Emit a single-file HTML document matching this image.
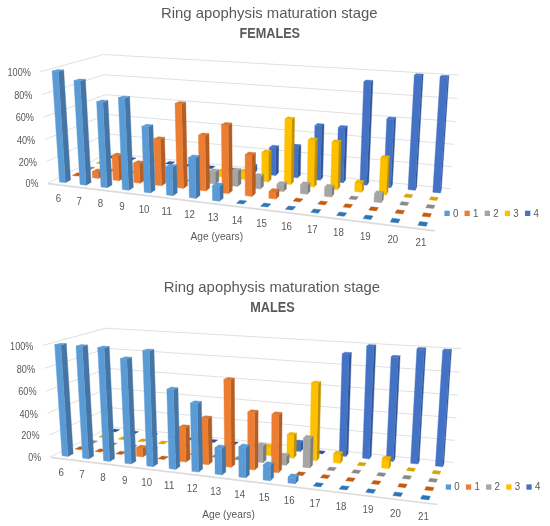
<!DOCTYPE html>
<html><head><meta charset="utf-8"><style>
html,body{margin:0;padding:0;background:#fff;}
body{width:550px;height:526px;overflow:hidden;position:relative;}
svg{position:absolute;left:0;top:0;}
text{font-family:"Liberation Sans",sans-serif;fill:#595959;}
</style></head><body>
<svg width="550" height="526" viewBox="0 0 550 526">
<text x="269.3" y="18.3" font-size="14.5" text-anchor="middle" textLength="216.5" lengthAdjust="spacingAndGlyphs">Ring apophysis maturation stage</text>
<text x="269.8" y="38.3" font-size="14" font-weight="bold" fill="#3C3C3C" text-anchor="middle" textLength="60.5" lengthAdjust="spacingAndGlyphs">FEMALES</text>
<g><polyline fill="none" stroke="#DDDDDD" stroke-width="0.9" points="48.0,183.1 108.1,153.1 450.8,188.8"/>
<polyline fill="none" stroke="#DDDDDD" stroke-width="0.9" points="46.5,161.5 107.1,133.9 452.3,166.7"/>
<polyline fill="none" stroke="#DDDDDD" stroke-width="0.9" points="45.0,139.5 106.2,114.4 453.9,144.3"/>
<polyline fill="none" stroke="#DDDDDD" stroke-width="0.9" points="43.4,117.3 105.2,94.7 455.5,121.5"/>
<polyline fill="none" stroke="#DDDDDD" stroke-width="0.9" points="41.8,94.6 104.3,74.7 457.1,98.4"/>
<polyline fill="none" stroke="#DDDDDD" stroke-width="0.9" points="40.2,71.7 103.3,54.5 458.7,74.9"/>
<line x1="48.0" y1="183.6" x2="434.9" y2="230.8" stroke="#DCDCDC" stroke-width="1.7"/>
<polygon points="107.4,157.6 112.9,158.2 117.1,156.0 111.7,155.4" fill="#2F5597" stroke="#2F5597" stroke-width="0.4" stroke-linejoin="round"/>
<polygon points="126.3,159.6 131.9,160.2 136.0,158.0 130.5,157.4" fill="#2F5597" stroke="#2F5597" stroke-width="0.4" stroke-linejoin="round"/>
<polygon points="145.6,161.7 151.3,162.3 155.2,160.0 149.6,159.4" fill="#2F5597" stroke="#2F5597" stroke-width="0.4" stroke-linejoin="round"/>
<polygon points="165.3,163.7 171.1,164.4 174.8,162.0 169.1,161.4" fill="#2F5597" stroke="#2F5597" stroke-width="0.4" stroke-linejoin="round"/>
<polygon points="185.3,165.9 191.2,166.5 194.8,164.1 189.0,163.5" fill="#2F5597" stroke="#2F5597" stroke-width="0.4" stroke-linejoin="round"/>
<polygon points="205.7,168.0 211.7,168.7 215.1,166.3 209.2,165.7" fill="#2F5597" stroke="#2F5597" stroke-width="0.4" stroke-linejoin="round"/>
<polygon points="226.5,170.3 232.6,170.9 235.8,168.5 229.8,167.8" fill="#2F5597" stroke="#2F5597" stroke-width="0.4" stroke-linejoin="round"/>
<polygon points="253.9,173.2 256.9,170.7 256.9,164.5 253.9,166.9" fill="#2F5597" stroke="#2F5597" stroke-width="0.4" stroke-linejoin="round"/>
<polygon points="247.7,172.5 253.9,173.2 253.9,166.9 247.6,166.3" fill="#4472C4" stroke="#4472C4" stroke-width="0.4" stroke-linejoin="round"/>
<polygon points="247.6,166.3 253.9,166.9 256.9,164.5 250.8,163.9" fill="#4472C4" stroke="#4472C4" stroke-width="0.4" stroke-linejoin="round"/>
<polygon points="275.6,175.5 278.4,172.9 278.7,145.8 275.8,148.1" fill="#2F5597" stroke="#2F5597" stroke-width="0.4" stroke-linejoin="round"/>
<polygon points="269.2,174.8 275.6,175.5 275.8,148.1 269.4,147.5" fill="#4472C4" stroke="#4472C4" stroke-width="0.4" stroke-linejoin="round"/>
<polygon points="269.4,147.5 275.8,148.1 278.7,145.8 272.4,145.2" fill="#4472C4" stroke="#4472C4" stroke-width="0.4" stroke-linejoin="round"/>
<polygon points="297.7,177.8 300.4,175.2 300.9,144.7 298.2,147.0" fill="#2F5597" stroke="#2F5597" stroke-width="0.4" stroke-linejoin="round"/>
<polygon points="291.2,177.1 297.7,177.8 298.2,147.0 291.7,146.4" fill="#4472C4" stroke="#4472C4" stroke-width="0.4" stroke-linejoin="round"/>
<polygon points="291.7,146.4 298.2,147.0 300.9,144.7 294.4,144.1" fill="#4472C4" stroke="#4472C4" stroke-width="0.4" stroke-linejoin="round"/>
<polygon points="320.3,180.2 322.7,177.6 324.0,124.0 321.6,126.1" fill="#2F5597" stroke="#2F5597" stroke-width="0.4" stroke-linejoin="round"/>
<polygon points="313.7,179.5 320.3,180.2 321.6,126.1 314.9,125.6" fill="#4472C4" stroke="#4472C4" stroke-width="0.4" stroke-linejoin="round"/>
<polygon points="314.9,125.6 321.6,126.1 324.0,124.0 317.4,123.5" fill="#4472C4" stroke="#4472C4" stroke-width="0.4" stroke-linejoin="round"/>
<polygon points="343.3,182.7 345.5,180.0 347.3,125.9 345.0,128.1" fill="#2F5597" stroke="#2F5597" stroke-width="0.4" stroke-linejoin="round"/>
<polygon points="336.6,182.0 343.3,182.7 345.0,128.1 338.2,127.5" fill="#4472C4" stroke="#4472C4" stroke-width="0.4" stroke-linejoin="round"/>
<polygon points="338.2,127.5 345.0,128.1 347.3,125.9 340.5,125.4" fill="#4472C4" stroke="#4472C4" stroke-width="0.4" stroke-linejoin="round"/>
<polygon points="366.7,185.2 368.7,182.4 372.9,80.4 370.9,82.1" fill="#2F5597" stroke="#2F5597" stroke-width="0.4" stroke-linejoin="round"/>
<polygon points="359.9,184.4 366.7,185.2 370.9,82.1 363.8,81.7" fill="#4472C4" stroke="#4472C4" stroke-width="0.4" stroke-linejoin="round"/>
<polygon points="363.8,81.7 370.9,82.1 372.9,80.4 365.9,80.0" fill="#4472C4" stroke="#4472C4" stroke-width="0.4" stroke-linejoin="round"/>
<polygon points="390.7,187.7 392.4,184.9 395.8,117.5 394.0,119.6" fill="#2F5597" stroke="#2F5597" stroke-width="0.4" stroke-linejoin="round"/>
<polygon points="383.7,187.0 390.7,187.7 394.0,119.6 386.8,119.0" fill="#4472C4" stroke="#4472C4" stroke-width="0.4" stroke-linejoin="round"/>
<polygon points="386.8,119.0 394.0,119.6 395.8,117.5 388.7,116.9" fill="#4472C4" stroke="#4472C4" stroke-width="0.4" stroke-linejoin="round"/>
<polygon points="415.1,190.3 416.6,187.5 423.2,74.1 421.7,75.8" fill="#2F5597" stroke="#2F5597" stroke-width="0.4" stroke-linejoin="round"/>
<polygon points="408.0,189.6 415.1,190.3 421.7,75.8 414.3,75.3" fill="#4472C4" stroke="#4472C4" stroke-width="0.4" stroke-linejoin="round"/>
<polygon points="414.3,75.3 421.7,75.8 423.2,74.1 415.8,73.7" fill="#4472C4" stroke="#4472C4" stroke-width="0.4" stroke-linejoin="round"/>
<polygon points="440.1,193.0 441.3,190.1 448.9,75.6 447.7,77.3" fill="#2F5597" stroke="#2F5597" stroke-width="0.4" stroke-linejoin="round"/>
<polygon points="432.8,192.2 440.1,193.0 447.7,77.3 440.1,76.8" fill="#4472C4" stroke="#4472C4" stroke-width="0.4" stroke-linejoin="round"/>
<polygon points="440.1,76.8 447.7,77.3 448.9,75.6 441.4,75.2" fill="#4472C4" stroke="#4472C4" stroke-width="0.4" stroke-linejoin="round"/>
<polygon points="96.3,163.2 101.9,163.8 106.3,161.5 100.8,160.9" fill="#D9A300" stroke="#D9A300" stroke-width="0.4" stroke-linejoin="round"/>
<polygon points="115.6,165.3 121.3,166.0 125.6,163.6 120.0,163.0" fill="#D9A300" stroke="#D9A300" stroke-width="0.4" stroke-linejoin="round"/>
<polygon points="135.3,167.5 141.1,168.1 145.2,165.7 139.5,165.1" fill="#D9A300" stroke="#D9A300" stroke-width="0.4" stroke-linejoin="round"/>
<polygon points="155.4,169.7 161.3,170.3 165.3,167.9 159.4,167.3" fill="#D9A300" stroke="#D9A300" stroke-width="0.4" stroke-linejoin="round"/>
<polygon points="175.8,171.9 181.8,172.6 185.6,170.1 179.7,169.5" fill="#D9A300" stroke="#D9A300" stroke-width="0.4" stroke-linejoin="round"/>
<polygon points="196.7,174.2 202.8,174.9 206.4,172.4 200.3,171.7" fill="#D9A300" stroke="#D9A300" stroke-width="0.4" stroke-linejoin="round"/>
<polygon points="224.2,177.2 227.6,174.7 227.5,169.5 224.1,172.0" fill="#BF9000" stroke="#BF9000" stroke-width="0.4" stroke-linejoin="round"/>
<polygon points="217.9,176.6 224.2,177.2 224.1,172.0 217.9,171.3" fill="#FFC000" stroke="#FFC000" stroke-width="0.4" stroke-linejoin="round"/>
<polygon points="217.9,171.3 224.1,172.0 227.5,169.5 221.3,168.8" fill="#F0B400" stroke="#F0B400" stroke-width="0.4" stroke-linejoin="round"/>
<polygon points="245.9,179.6 249.2,177.0 249.2,169.6 245.9,172.2" fill="#BF9000" stroke="#BF9000" stroke-width="0.4" stroke-linejoin="round"/>
<polygon points="239.6,178.9 245.9,179.6 245.9,172.2 239.5,171.5" fill="#FFC000" stroke="#FFC000" stroke-width="0.4" stroke-linejoin="round"/>
<polygon points="239.5,171.5 245.9,172.2 249.2,169.6 242.8,169.0" fill="#F0B400" stroke="#F0B400" stroke-width="0.4" stroke-linejoin="round"/>
<polygon points="268.2,182.1 271.2,179.4 271.4,150.5 268.3,152.9" fill="#BF9000" stroke="#BF9000" stroke-width="0.4" stroke-linejoin="round"/>
<polygon points="261.7,181.3 268.2,182.1 268.3,152.9 261.8,152.3" fill="#FFC000" stroke="#FFC000" stroke-width="0.4" stroke-linejoin="round"/>
<polygon points="261.8,152.3 268.3,152.9 271.4,150.5 264.9,149.9" fill="#F0B400" stroke="#F0B400" stroke-width="0.4" stroke-linejoin="round"/>
<polygon points="290.8,184.5 293.6,181.8 294.6,117.4 291.7,119.4" fill="#BF9000" stroke="#BF9000" stroke-width="0.4" stroke-linejoin="round"/>
<polygon points="284.2,183.8 290.8,184.5 291.7,119.4 284.9,118.9" fill="#FFC000" stroke="#FFC000" stroke-width="0.4" stroke-linejoin="round"/>
<polygon points="284.9,118.9 291.7,119.4 294.6,117.4 287.9,116.8" fill="#F0B400" stroke="#F0B400" stroke-width="0.4" stroke-linejoin="round"/>
<polygon points="313.9,187.1 316.5,184.3 317.6,138.3 315.0,140.6" fill="#BF9000" stroke="#BF9000" stroke-width="0.4" stroke-linejoin="round"/>
<polygon points="307.2,186.3 313.9,187.1 315.0,140.6 308.1,140.0" fill="#FFC000" stroke="#FFC000" stroke-width="0.4" stroke-linejoin="round"/>
<polygon points="308.1,140.0 315.0,140.6 317.6,138.3 310.8,137.7" fill="#F0B400" stroke="#F0B400" stroke-width="0.4" stroke-linejoin="round"/>
<polygon points="337.5,189.7 339.9,186.8 341.3,140.4 338.9,142.7" fill="#BF9000" stroke="#BF9000" stroke-width="0.4" stroke-linejoin="round"/>
<polygon points="330.6,188.9 337.5,189.7 338.9,142.7 331.9,142.1" fill="#FFC000" stroke="#FFC000" stroke-width="0.4" stroke-linejoin="round"/>
<polygon points="331.9,142.1 338.9,142.7 341.3,140.4 334.4,139.8" fill="#F0B400" stroke="#F0B400" stroke-width="0.4" stroke-linejoin="round"/>
<polygon points="361.6,192.3 363.7,189.4 364.0,180.6 361.9,183.4" fill="#BF9000" stroke="#BF9000" stroke-width="0.4" stroke-linejoin="round"/>
<polygon points="354.6,191.5 361.6,192.3 361.9,183.4 354.9,182.7" fill="#FFC000" stroke="#FFC000" stroke-width="0.4" stroke-linejoin="round"/>
<polygon points="354.9,182.7 361.9,183.4 364.0,180.6 357.1,179.9" fill="#F0B400" stroke="#F0B400" stroke-width="0.4" stroke-linejoin="round"/>
<polygon points="386.2,195.0 388.0,192.0 389.7,156.1 387.9,158.7" fill="#BF9000" stroke="#BF9000" stroke-width="0.4" stroke-linejoin="round"/>
<polygon points="379.0,194.2 386.2,195.0 387.9,158.7 380.6,158.0" fill="#FFC000" stroke="#FFC000" stroke-width="0.4" stroke-linejoin="round"/>
<polygon points="380.6,158.0 387.9,158.7 389.7,156.1 382.5,155.5" fill="#F0B400" stroke="#F0B400" stroke-width="0.4" stroke-linejoin="round"/>
<polygon points="403.9,196.9 411.3,197.7 412.9,194.7 405.6,193.9" fill="#D9A300" stroke="#D9A300" stroke-width="0.4" stroke-linejoin="round"/>
<polygon points="429.4,199.7 436.9,200.6 438.2,197.5 430.8,196.7" fill="#D9A300" stroke="#D9A300" stroke-width="0.4" stroke-linejoin="round"/>
<polygon points="84.7,169.1 90.3,169.8 95.0,167.4 89.4,166.7" fill="#8A8A8A" stroke="#8A8A8A" stroke-width="0.4" stroke-linejoin="round"/>
<polygon points="104.4,171.4 110.2,172.0 114.7,169.6 109.0,168.9" fill="#8A8A8A" stroke="#8A8A8A" stroke-width="0.4" stroke-linejoin="round"/>
<polygon points="124.5,173.6 130.4,174.3 134.7,171.8 128.9,171.1" fill="#8A8A8A" stroke="#8A8A8A" stroke-width="0.4" stroke-linejoin="round"/>
<polygon points="145.0,176.0 151.0,176.6 155.2,174.1 149.2,173.4" fill="#8A8A8A" stroke="#8A8A8A" stroke-width="0.4" stroke-linejoin="round"/>
<polygon points="165.9,178.3 172.0,179.0 176.0,176.4 169.9,175.7" fill="#8A8A8A" stroke="#8A8A8A" stroke-width="0.4" stroke-linejoin="round"/>
<polygon points="187.2,180.7 193.4,181.4 197.2,178.8 191.0,178.1" fill="#8A8A8A" stroke="#8A8A8A" stroke-width="0.4" stroke-linejoin="round"/>
<polygon points="215.3,183.9 218.9,181.2 218.8,169.4 215.1,172.0" fill="#7C7C7C" stroke="#7C7C7C" stroke-width="0.4" stroke-linejoin="round"/>
<polygon points="208.9,183.2 215.3,183.9 215.1,172.0 208.7,171.3" fill="#A5A5A5" stroke="#A5A5A5" stroke-width="0.4" stroke-linejoin="round"/>
<polygon points="208.7,171.3 215.1,172.0 218.8,169.4 212.4,168.8" fill="#A5A5A5" stroke="#A5A5A5" stroke-width="0.4" stroke-linejoin="round"/>
<polygon points="237.6,186.4 241.0,183.7 240.9,168.5 237.5,171.1" fill="#7C7C7C" stroke="#7C7C7C" stroke-width="0.4" stroke-linejoin="round"/>
<polygon points="231.1,185.7 237.6,186.4 237.5,171.1 231.0,170.5" fill="#A5A5A5" stroke="#A5A5A5" stroke-width="0.4" stroke-linejoin="round"/>
<polygon points="231.0,170.5 237.5,171.1 240.9,168.5 234.4,167.9" fill="#A5A5A5" stroke="#A5A5A5" stroke-width="0.4" stroke-linejoin="round"/>
<polygon points="260.3,189.0 263.5,186.2 263.6,174.2 260.4,176.9" fill="#7C7C7C" stroke="#7C7C7C" stroke-width="0.4" stroke-linejoin="round"/>
<polygon points="253.7,188.3 260.3,189.0 260.4,176.9 253.7,176.2" fill="#A5A5A5" stroke="#A5A5A5" stroke-width="0.4" stroke-linejoin="round"/>
<polygon points="253.7,176.2 260.4,176.9 263.6,174.2 256.9,173.5" fill="#A5A5A5" stroke="#A5A5A5" stroke-width="0.4" stroke-linejoin="round"/>
<polygon points="283.5,191.6 286.5,188.7 286.6,182.2 283.6,185.0" fill="#7C7C7C" stroke="#7C7C7C" stroke-width="0.4" stroke-linejoin="round"/>
<polygon points="276.8,190.9 283.5,191.6 283.6,185.0 276.8,184.2" fill="#A5A5A5" stroke="#A5A5A5" stroke-width="0.4" stroke-linejoin="round"/>
<polygon points="276.8,184.2 283.6,185.0 286.6,182.2 279.8,181.4" fill="#A5A5A5" stroke="#A5A5A5" stroke-width="0.4" stroke-linejoin="round"/>
<polygon points="307.2,194.3 310.0,191.4 310.1,182.5 307.4,185.3" fill="#7C7C7C" stroke="#7C7C7C" stroke-width="0.4" stroke-linejoin="round"/>
<polygon points="300.3,193.5 307.2,194.3 307.4,185.3 300.5,184.6" fill="#A5A5A5" stroke="#A5A5A5" stroke-width="0.4" stroke-linejoin="round"/>
<polygon points="300.5,184.6 307.4,185.3 310.1,182.5 303.3,181.8" fill="#A5A5A5" stroke="#A5A5A5" stroke-width="0.4" stroke-linejoin="round"/>
<polygon points="331.4,197.1 333.9,194.0 334.2,185.1 331.7,188.0" fill="#7C7C7C" stroke="#7C7C7C" stroke-width="0.4" stroke-linejoin="round"/>
<polygon points="324.4,196.3 331.4,197.1 331.7,188.0 324.6,187.2" fill="#A5A5A5" stroke="#A5A5A5" stroke-width="0.4" stroke-linejoin="round"/>
<polygon points="324.6,187.2 331.7,188.0 334.2,185.1 327.1,184.3" fill="#A5A5A5" stroke="#A5A5A5" stroke-width="0.4" stroke-linejoin="round"/>
<polygon points="348.9,199.0 356.1,199.8 358.4,196.8 351.2,196.0" fill="#8A8A8A" stroke="#8A8A8A" stroke-width="0.4" stroke-linejoin="round"/>
<polygon points="381.4,202.7 383.3,199.6 383.7,191.6 381.8,194.6" fill="#7C7C7C" stroke="#7C7C7C" stroke-width="0.4" stroke-linejoin="round"/>
<polygon points="374.0,201.9 381.4,202.7 381.8,194.6 374.4,193.8" fill="#A5A5A5" stroke="#A5A5A5" stroke-width="0.4" stroke-linejoin="round"/>
<polygon points="374.4,193.8 381.8,194.6 383.7,191.6 376.4,190.8" fill="#A5A5A5" stroke="#A5A5A5" stroke-width="0.4" stroke-linejoin="round"/>
<polygon points="399.7,204.8 407.2,205.6 408.9,202.4 401.4,201.6" fill="#8A8A8A" stroke="#8A8A8A" stroke-width="0.4" stroke-linejoin="round"/>
<polygon points="425.8,207.7 433.6,208.6 434.9,205.3 427.3,204.5" fill="#8A8A8A" stroke="#8A8A8A" stroke-width="0.4" stroke-linejoin="round"/>
<polygon points="72.4,175.4 78.2,176.1 83.1,173.5 77.4,172.8" fill="#C55A11" stroke="#C55A11" stroke-width="0.4" stroke-linejoin="round"/>
<polygon points="98.4,178.4 103.2,175.8 102.9,169.5 98.1,172.1" fill="#B35E24" stroke="#B35E24" stroke-width="0.4" stroke-linejoin="round"/>
<polygon points="92.5,177.7 98.4,178.4 98.1,172.1 92.2,171.4" fill="#ED7D31" stroke="#ED7D31" stroke-width="0.4" stroke-linejoin="round"/>
<polygon points="92.2,171.4 98.1,172.1 102.9,169.5 97.0,168.9" fill="#DC742D" stroke="#DC742D" stroke-width="0.4" stroke-linejoin="round"/>
<polygon points="119.1,180.8 123.7,178.2 122.6,153.7 118.0,156.2" fill="#B35E24" stroke="#B35E24" stroke-width="0.4" stroke-linejoin="round"/>
<polygon points="113.1,180.1 119.1,180.8 118.0,156.2 111.9,155.5" fill="#ED7D31" stroke="#ED7D31" stroke-width="0.4" stroke-linejoin="round"/>
<polygon points="111.9,155.5 118.0,156.2 122.6,153.7 116.6,153.1" fill="#DC742D" stroke="#DC742D" stroke-width="0.4" stroke-linejoin="round"/>
<polygon points="140.1,183.3 144.5,180.6 143.8,161.3 139.4,163.8" fill="#B35E24" stroke="#B35E24" stroke-width="0.4" stroke-linejoin="round"/>
<polygon points="134.0,182.6 140.1,183.3 139.4,163.8 133.2,163.2" fill="#ED7D31" stroke="#ED7D31" stroke-width="0.4" stroke-linejoin="round"/>
<polygon points="133.2,163.2 139.4,163.8 143.8,161.3 137.7,160.7" fill="#DC742D" stroke="#DC742D" stroke-width="0.4" stroke-linejoin="round"/>
<polygon points="161.6,185.8 165.8,183.0 164.5,137.3 160.2,139.6" fill="#B35E24" stroke="#B35E24" stroke-width="0.4" stroke-linejoin="round"/>
<polygon points="155.3,185.1 161.6,185.8 160.2,139.6 153.8,139.0" fill="#ED7D31" stroke="#ED7D31" stroke-width="0.4" stroke-linejoin="round"/>
<polygon points="153.8,139.0 160.2,139.6 164.5,137.3 158.2,136.7" fill="#DC742D" stroke="#DC742D" stroke-width="0.4" stroke-linejoin="round"/>
<polygon points="183.5,188.4 187.5,185.5 185.7,102.0 181.6,103.9" fill="#B35E24" stroke="#B35E24" stroke-width="0.4" stroke-linejoin="round"/>
<polygon points="177.1,187.6 183.5,188.4 181.6,103.9 175.0,103.4" fill="#ED7D31" stroke="#ED7D31" stroke-width="0.4" stroke-linejoin="round"/>
<polygon points="175.0,103.4 181.6,103.9 185.7,102.0 179.2,101.5" fill="#DC742D" stroke="#DC742D" stroke-width="0.4" stroke-linejoin="round"/>
<polygon points="205.9,191.0 209.7,188.1 208.9,133.5 205.0,135.8" fill="#B35E24" stroke="#B35E24" stroke-width="0.4" stroke-linejoin="round"/>
<polygon points="199.4,190.2 205.9,191.0 205.0,135.8 198.4,135.2" fill="#ED7D31" stroke="#ED7D31" stroke-width="0.4" stroke-linejoin="round"/>
<polygon points="198.4,135.2 205.0,135.8 208.9,133.5 202.3,132.9" fill="#DC742D" stroke="#DC742D" stroke-width="0.4" stroke-linejoin="round"/>
<polygon points="228.7,193.6 232.3,190.7 231.9,123.0 228.2,125.2" fill="#B35E24" stroke="#B35E24" stroke-width="0.4" stroke-linejoin="round"/>
<polygon points="222.1,192.9 228.7,193.6 228.2,125.2 221.4,124.6" fill="#ED7D31" stroke="#ED7D31" stroke-width="0.4" stroke-linejoin="round"/>
<polygon points="221.4,124.6 228.2,125.2 231.9,123.0 225.1,122.4" fill="#DC742D" stroke="#DC742D" stroke-width="0.4" stroke-linejoin="round"/>
<polygon points="252.0,196.4 255.4,193.4 255.5,152.7 252.0,155.3" fill="#B35E24" stroke="#B35E24" stroke-width="0.4" stroke-linejoin="round"/>
<polygon points="245.2,195.6 252.0,196.4 252.0,155.3 245.1,154.6" fill="#ED7D31" stroke="#ED7D31" stroke-width="0.4" stroke-linejoin="round"/>
<polygon points="245.1,154.6 252.0,155.3 255.5,152.7 248.6,152.1" fill="#DC742D" stroke="#DC742D" stroke-width="0.4" stroke-linejoin="round"/>
<polygon points="275.8,199.1 279.0,196.1 279.0,189.3 275.9,192.3" fill="#B35E24" stroke="#B35E24" stroke-width="0.4" stroke-linejoin="round"/>
<polygon points="268.9,198.3 275.8,199.1 275.9,192.3 268.9,191.5" fill="#ED7D31" stroke="#ED7D31" stroke-width="0.4" stroke-linejoin="round"/>
<polygon points="268.9,191.5 275.9,192.3 279.0,189.3 272.1,188.6" fill="#DC742D" stroke="#DC742D" stroke-width="0.4" stroke-linejoin="round"/>
<polygon points="293.0,201.1 300.1,202.0 303.0,198.9 296.0,198.0" fill="#C55A11" stroke="#C55A11" stroke-width="0.4" stroke-linejoin="round"/>
<polygon points="317.7,204.0 325.0,204.9 327.6,201.7 320.4,200.9" fill="#C55A11" stroke="#C55A11" stroke-width="0.4" stroke-linejoin="round"/>
<polygon points="343.0,207.0 350.4,207.8 352.7,204.6 345.4,203.7" fill="#C55A11" stroke="#C55A11" stroke-width="0.4" stroke-linejoin="round"/>
<polygon points="368.7,210.0 376.3,210.9 378.4,207.5 370.9,206.7" fill="#C55A11" stroke="#C55A11" stroke-width="0.4" stroke-linejoin="round"/>
<polygon points="395.1,213.1 402.8,214.0 404.6,210.6 396.9,209.7" fill="#C55A11" stroke="#C55A11" stroke-width="0.4" stroke-linejoin="round"/>
<polygon points="422.0,216.2 430.0,217.1 431.4,213.7 423.6,212.8" fill="#C55A11" stroke="#C55A11" stroke-width="0.4" stroke-linejoin="round"/>
<polygon points="65.4,182.7 70.6,180.0 63.7,69.9 58.3,71.4" fill="#4475A4" stroke="#4475A4" stroke-width="0.4" stroke-linejoin="round"/>
<polygon points="59.5,182.0 65.4,182.7 58.3,71.4 52.1,71.0" fill="#5B9BD5" stroke="#5B9BD5" stroke-width="0.4" stroke-linejoin="round"/>
<polygon points="52.1,71.0 58.3,71.4 63.7,69.9 57.7,69.5" fill="#5B9BD5" stroke="#5B9BD5" stroke-width="0.4" stroke-linejoin="round"/>
<polygon points="86.1,185.2 91.1,182.4 85.4,79.3 80.1,81.0" fill="#4475A4" stroke="#4475A4" stroke-width="0.4" stroke-linejoin="round"/>
<polygon points="80.0,184.4 86.1,185.2 80.1,81.0 73.9,80.6" fill="#5B9BD5" stroke="#5B9BD5" stroke-width="0.4" stroke-linejoin="round"/>
<polygon points="73.9,80.6 80.1,81.0 85.4,79.3 79.2,78.9" fill="#5B9BD5" stroke="#5B9BD5" stroke-width="0.4" stroke-linejoin="round"/>
<polygon points="107.1,187.7 112.0,184.9 107.9,100.4 102.9,102.3" fill="#4475A4" stroke="#4475A4" stroke-width="0.4" stroke-linejoin="round"/>
<polygon points="101.0,187.0 107.1,187.7 102.9,102.3 96.6,101.8" fill="#5B9BD5" stroke="#5B9BD5" stroke-width="0.4" stroke-linejoin="round"/>
<polygon points="96.6,101.8 102.9,102.3 107.9,100.4 101.7,99.9" fill="#5B9BD5" stroke="#5B9BD5" stroke-width="0.4" stroke-linejoin="round"/>
<polygon points="128.7,190.3 133.3,187.5 129.6,96.4 124.8,98.3" fill="#4475A4" stroke="#4475A4" stroke-width="0.4" stroke-linejoin="round"/>
<polygon points="122.4,189.6 128.7,190.3 124.8,98.3 118.3,97.8" fill="#5B9BD5" stroke="#5B9BD5" stroke-width="0.4" stroke-linejoin="round"/>
<polygon points="118.3,97.8 124.8,98.3 129.6,96.4 123.2,95.9" fill="#5B9BD5" stroke="#5B9BD5" stroke-width="0.4" stroke-linejoin="round"/>
<polygon points="150.6,193.0 155.1,190.0 152.9,124.8 148.3,127.0" fill="#4475A4" stroke="#4475A4" stroke-width="0.4" stroke-linejoin="round"/>
<polygon points="144.2,192.2 150.6,193.0 148.3,127.0 141.8,126.4" fill="#5B9BD5" stroke="#5B9BD5" stroke-width="0.4" stroke-linejoin="round"/>
<polygon points="141.8,126.4 148.3,127.0 152.9,124.8 146.4,124.2" fill="#5B9BD5" stroke="#5B9BD5" stroke-width="0.4" stroke-linejoin="round"/>
<polygon points="173.1,195.7 177.3,192.7 176.6,164.7 172.3,167.3" fill="#4475A4" stroke="#4475A4" stroke-width="0.4" stroke-linejoin="round"/>
<polygon points="166.5,194.9 173.1,195.7 172.3,167.3 165.7,166.6" fill="#5B9BD5" stroke="#5B9BD5" stroke-width="0.4" stroke-linejoin="round"/>
<polygon points="165.7,166.6 172.3,167.3 176.6,164.7 170.1,164.0" fill="#5B9BD5" stroke="#5B9BD5" stroke-width="0.4" stroke-linejoin="round"/>
<polygon points="196.0,198.4 200.0,195.4 199.3,155.6 195.2,158.2" fill="#4475A4" stroke="#4475A4" stroke-width="0.4" stroke-linejoin="round"/>
<polygon points="189.3,197.6 196.0,198.4 195.2,158.2 188.4,157.5" fill="#5B9BD5" stroke="#5B9BD5" stroke-width="0.4" stroke-linejoin="round"/>
<polygon points="188.4,157.5 195.2,158.2 199.3,155.6 192.6,154.9" fill="#5B9BD5" stroke="#5B9BD5" stroke-width="0.4" stroke-linejoin="round"/>
<polygon points="219.4,201.3 223.2,198.2 223.0,183.4 219.2,186.3" fill="#4475A4" stroke="#4475A4" stroke-width="0.4" stroke-linejoin="round"/>
<polygon points="212.5,200.4 219.4,201.3 219.2,186.3 212.3,185.5" fill="#5B9BD5" stroke="#5B9BD5" stroke-width="0.4" stroke-linejoin="round"/>
<polygon points="212.3,185.5 219.2,186.3 223.0,183.4 216.2,182.6" fill="#5B9BD5" stroke="#5B9BD5" stroke-width="0.4" stroke-linejoin="round"/>
<polygon points="236.3,203.3 243.3,204.1 246.8,201.0 239.9,200.2" fill="#2E75B6" stroke="#2E75B6" stroke-width="0.4" stroke-linejoin="round"/>
<polygon points="260.5,206.2 267.7,207.1 271.0,203.9 263.9,203.0" fill="#2E75B6" stroke="#2E75B6" stroke-width="0.4" stroke-linejoin="round"/>
<polygon points="285.3,209.2 292.6,210.1 295.7,206.8 288.5,205.9" fill="#2E75B6" stroke="#2E75B6" stroke-width="0.4" stroke-linejoin="round"/>
<polygon points="310.7,212.3 318.1,213.2 320.9,209.8 313.6,208.9" fill="#2E75B6" stroke="#2E75B6" stroke-width="0.4" stroke-linejoin="round"/>
<polygon points="336.6,215.4 344.2,216.3 346.7,212.9 339.2,212.0" fill="#2E75B6" stroke="#2E75B6" stroke-width="0.4" stroke-linejoin="round"/>
<polygon points="363.1,218.6 370.9,219.6 373.1,216.0 365.4,215.1" fill="#2E75B6" stroke="#2E75B6" stroke-width="0.4" stroke-linejoin="round"/>
<polygon points="390.2,221.9 398.2,222.9 400.1,219.2 392.2,218.3" fill="#2E75B6" stroke="#2E75B6" stroke-width="0.4" stroke-linejoin="round"/>
<polygon points="418.0,225.2 426.2,226.2 427.7,222.5 419.6,221.6" fill="#2E75B6" stroke="#2E75B6" stroke-width="0.4" stroke-linejoin="round"/><text x="38.5" y="187.2" font-size="10.5" text-anchor="end" textLength="12.9" lengthAdjust="spacingAndGlyphs">0%</text>
<text x="37.0" y="165.6" font-size="10.5" text-anchor="end" textLength="18.3" lengthAdjust="spacingAndGlyphs">20%</text>
<text x="35.2" y="144.4" font-size="10.5" text-anchor="end" textLength="18.3" lengthAdjust="spacingAndGlyphs">40%</text>
<text x="34.0" y="121.3" font-size="10.5" text-anchor="end" textLength="18.3" lengthAdjust="spacingAndGlyphs">60%</text>
<text x="32.5" y="99.0" font-size="10.5" text-anchor="end" textLength="18.3" lengthAdjust="spacingAndGlyphs">80%</text>
<text x="30.8" y="75.9" font-size="10.5" text-anchor="end" textLength="23.3" lengthAdjust="spacingAndGlyphs">100%</text>
<text x="58.5" y="202.1" font-size="10.5" text-anchor="middle" textLength="5.4" lengthAdjust="spacingAndGlyphs">6</text>
<text x="79.3" y="204.7" font-size="10.5" text-anchor="middle" textLength="5.4" lengthAdjust="spacingAndGlyphs">7</text>
<text x="100.4" y="207.2" font-size="10.5" text-anchor="middle" textLength="5.4" lengthAdjust="spacingAndGlyphs">8</text>
<text x="122.0" y="209.9" font-size="10.5" text-anchor="middle" textLength="5.4" lengthAdjust="spacingAndGlyphs">9</text>
<text x="144.1" y="212.6" font-size="10.5" text-anchor="middle" textLength="10.8" lengthAdjust="spacingAndGlyphs">10</text>
<text x="166.6" y="215.3" font-size="10.5" text-anchor="middle" textLength="10.8" lengthAdjust="spacingAndGlyphs">11</text>
<text x="189.6" y="218.1" font-size="10.5" text-anchor="middle" textLength="10.8" lengthAdjust="spacingAndGlyphs">12</text>
<text x="213.1" y="221.0" font-size="10.5" text-anchor="middle" textLength="10.8" lengthAdjust="spacingAndGlyphs">13</text>
<text x="237.1" y="223.9" font-size="10.5" text-anchor="middle" textLength="10.8" lengthAdjust="spacingAndGlyphs">14</text>
<text x="261.6" y="226.9" font-size="10.5" text-anchor="middle" textLength="10.8" lengthAdjust="spacingAndGlyphs">15</text>
<text x="286.6" y="230.0" font-size="10.5" text-anchor="middle" textLength="10.8" lengthAdjust="spacingAndGlyphs">16</text>
<text x="312.3" y="233.1" font-size="10.5" text-anchor="middle" textLength="10.8" lengthAdjust="spacingAndGlyphs">17</text>
<text x="338.5" y="236.3" font-size="10.5" text-anchor="middle" textLength="10.8" lengthAdjust="spacingAndGlyphs">18</text>
<text x="365.3" y="239.6" font-size="10.5" text-anchor="middle" textLength="10.8" lengthAdjust="spacingAndGlyphs">19</text>
<text x="392.8" y="242.9" font-size="10.5" text-anchor="middle" textLength="10.8" lengthAdjust="spacingAndGlyphs">20</text>
<text x="420.9" y="246.3" font-size="10.5" text-anchor="middle" textLength="10.8" lengthAdjust="spacingAndGlyphs">21</text>
<text x="216.8" y="240.2" font-size="10.5" text-anchor="middle" textLength="52.6" lengthAdjust="spacingAndGlyphs">Age (years)</text>
<rect x="444.4" y="210.7" width="5.3" height="5.3" fill="#5B9BD5"/>
<text x="452.9" y="216.7" font-size="10.5" textLength="5.4" lengthAdjust="spacingAndGlyphs">0</text>
<rect x="464.5" y="210.7" width="5.3" height="5.3" fill="#ED7D31"/>
<text x="473.0" y="216.7" font-size="10.5" textLength="5.4" lengthAdjust="spacingAndGlyphs">1</text>
<rect x="484.7" y="210.7" width="5.3" height="5.3" fill="#A5A5A5"/>
<text x="493.2" y="216.7" font-size="10.5" textLength="5.4" lengthAdjust="spacingAndGlyphs">2</text>
<rect x="504.8" y="210.7" width="5.3" height="5.3" fill="#FFC000"/>
<text x="513.3" y="216.7" font-size="10.5" textLength="5.4" lengthAdjust="spacingAndGlyphs">3</text>
<rect x="525.0" y="210.7" width="5.3" height="5.3" fill="#4472C4"/>
<text x="533.5" y="216.7" font-size="10.5" textLength="5.4" lengthAdjust="spacingAndGlyphs">4</text></g>
<text x="271.9" y="292.3" font-size="14.5" text-anchor="middle" textLength="216.5" lengthAdjust="spacingAndGlyphs">Ring apophysis maturation stage</text>
<text x="272.4" y="312.3" font-size="14" font-weight="bold" fill="#3C3C3C" text-anchor="middle" textLength="44.5" lengthAdjust="spacingAndGlyphs">MALES</text>
<g transform="translate(2.6,273.7)"><polyline fill="none" stroke="#DDDDDD" stroke-width="0.9" points="48.0,183.1 108.1,153.1 450.8,188.8"/>
<polyline fill="none" stroke="#DDDDDD" stroke-width="0.9" points="46.5,161.5 107.1,133.9 452.3,166.7"/>
<polyline fill="none" stroke="#DDDDDD" stroke-width="0.9" points="45.0,139.5 106.2,114.4 453.9,144.3"/>
<polyline fill="none" stroke="#DDDDDD" stroke-width="0.9" points="43.4,117.3 105.2,94.7 455.5,121.5"/>
<polyline fill="none" stroke="#DDDDDD" stroke-width="0.9" points="41.8,94.6 104.3,74.7 457.1,98.4"/>
<polyline fill="none" stroke="#DDDDDD" stroke-width="0.9" points="40.2,71.7 103.3,54.5 458.7,74.9"/>
<line x1="48.0" y1="183.6" x2="434.9" y2="230.8" stroke="#DCDCDC" stroke-width="1.7"/>
<polygon points="107.4,157.6 112.9,158.2 117.1,156.0 111.7,155.4" fill="#2F5597" stroke="#2F5597" stroke-width="0.4" stroke-linejoin="round"/>
<polygon points="126.3,159.6 131.9,160.2 136.0,158.0 130.5,157.4" fill="#2F5597" stroke="#2F5597" stroke-width="0.4" stroke-linejoin="round"/>
<polygon points="145.6,161.7 151.3,162.3 155.2,160.0 149.6,159.4" fill="#2F5597" stroke="#2F5597" stroke-width="0.4" stroke-linejoin="round"/>
<polygon points="165.3,163.7 171.1,164.4 174.8,162.0 169.1,161.4" fill="#2F5597" stroke="#2F5597" stroke-width="0.4" stroke-linejoin="round"/>
<polygon points="185.3,165.9 191.2,166.5 194.8,164.1 189.0,163.5" fill="#2F5597" stroke="#2F5597" stroke-width="0.4" stroke-linejoin="round"/>
<polygon points="205.7,168.0 211.7,168.7 215.1,166.3 209.2,165.7" fill="#2F5597" stroke="#2F5597" stroke-width="0.4" stroke-linejoin="round"/>
<polygon points="226.5,170.3 232.6,170.9 235.8,168.5 229.8,167.8" fill="#2F5597" stroke="#2F5597" stroke-width="0.4" stroke-linejoin="round"/>
<polygon points="247.7,172.5 253.9,173.2 256.9,170.7 250.8,170.0" fill="#2F5597" stroke="#2F5597" stroke-width="0.4" stroke-linejoin="round"/>
<polygon points="269.2,174.8 275.6,175.5 278.4,172.9 272.2,172.3" fill="#2F5597" stroke="#2F5597" stroke-width="0.4" stroke-linejoin="round"/>
<polygon points="297.7,177.8 300.4,175.2 300.5,166.9 297.8,169.4" fill="#2F5597" stroke="#2F5597" stroke-width="0.4" stroke-linejoin="round"/>
<polygon points="291.2,177.1 297.7,177.8 297.8,169.4 291.4,168.7" fill="#4472C4" stroke="#4472C4" stroke-width="0.4" stroke-linejoin="round"/>
<polygon points="291.4,168.7 297.8,169.4 300.5,166.9 294.1,166.2" fill="#4472C4" stroke="#4472C4" stroke-width="0.4" stroke-linejoin="round"/>
<polygon points="313.7,179.5 320.3,180.2 322.7,177.6 316.2,176.9" fill="#2F5597" stroke="#2F5597" stroke-width="0.4" stroke-linejoin="round"/>
<polygon points="343.3,182.7 345.5,180.0 348.8,78.9 346.6,80.6" fill="#2F5597" stroke="#2F5597" stroke-width="0.4" stroke-linejoin="round"/>
<polygon points="336.6,182.0 343.3,182.7 346.6,80.6 339.6,80.2" fill="#4472C4" stroke="#4472C4" stroke-width="0.4" stroke-linejoin="round"/>
<polygon points="339.6,80.2 346.6,80.6 348.8,78.9 341.9,78.5" fill="#4472C4" stroke="#4472C4" stroke-width="0.4" stroke-linejoin="round"/>
<polygon points="366.7,185.2 368.7,182.4 373.3,71.2 371.3,72.8" fill="#2F5597" stroke="#2F5597" stroke-width="0.4" stroke-linejoin="round"/>
<polygon points="359.9,184.4 366.7,185.2 371.3,72.8 364.1,72.4" fill="#4472C4" stroke="#4472C4" stroke-width="0.4" stroke-linejoin="round"/>
<polygon points="364.1,72.4 371.3,72.8 373.3,71.2 366.2,70.8" fill="#4472C4" stroke="#4472C4" stroke-width="0.4" stroke-linejoin="round"/>
<polygon points="390.7,187.7 392.4,184.9 397.5,82.0 395.8,83.7" fill="#2F5597" stroke="#2F5597" stroke-width="0.4" stroke-linejoin="round"/>
<polygon points="383.7,187.0 390.7,187.7 395.8,83.7 388.5,83.2" fill="#4472C4" stroke="#4472C4" stroke-width="0.4" stroke-linejoin="round"/>
<polygon points="388.5,83.2 395.8,83.7 397.5,82.0 390.3,81.5" fill="#4472C4" stroke="#4472C4" stroke-width="0.4" stroke-linejoin="round"/>
<polygon points="415.1,190.3 416.6,187.5 423.2,74.1 421.7,75.8" fill="#2F5597" stroke="#2F5597" stroke-width="0.4" stroke-linejoin="round"/>
<polygon points="408.0,189.6 415.1,190.3 421.7,75.8 414.3,75.3" fill="#4472C4" stroke="#4472C4" stroke-width="0.4" stroke-linejoin="round"/>
<polygon points="414.3,75.3 421.7,75.8 423.2,74.1 415.8,73.7" fill="#4472C4" stroke="#4472C4" stroke-width="0.4" stroke-linejoin="round"/>
<polygon points="440.1,193.0 441.3,190.1 448.9,75.6 447.7,77.3" fill="#2F5597" stroke="#2F5597" stroke-width="0.4" stroke-linejoin="round"/>
<polygon points="432.8,192.2 440.1,193.0 447.7,77.3 440.1,76.8" fill="#4472C4" stroke="#4472C4" stroke-width="0.4" stroke-linejoin="round"/>
<polygon points="440.1,76.8 447.7,77.3 448.9,75.6 441.4,75.2" fill="#4472C4" stroke="#4472C4" stroke-width="0.4" stroke-linejoin="round"/>
<polygon points="96.3,163.2 101.9,163.8 106.3,161.5 100.8,160.9" fill="#D9A300" stroke="#D9A300" stroke-width="0.4" stroke-linejoin="round"/>
<polygon points="115.6,165.3 121.3,166.0 125.6,163.6 120.0,163.0" fill="#D9A300" stroke="#D9A300" stroke-width="0.4" stroke-linejoin="round"/>
<polygon points="135.3,167.5 141.1,168.1 145.2,165.7 139.5,165.1" fill="#D9A300" stroke="#D9A300" stroke-width="0.4" stroke-linejoin="round"/>
<polygon points="155.4,169.7 161.3,170.3 165.3,167.9 159.4,167.3" fill="#D9A300" stroke="#D9A300" stroke-width="0.4" stroke-linejoin="round"/>
<polygon points="175.8,171.9 181.8,172.6 185.6,170.1 179.7,169.5" fill="#D9A300" stroke="#D9A300" stroke-width="0.4" stroke-linejoin="round"/>
<polygon points="196.7,174.2 202.8,174.9 206.4,172.4 200.3,171.7" fill="#D9A300" stroke="#D9A300" stroke-width="0.4" stroke-linejoin="round"/>
<polygon points="217.9,176.6 224.2,177.2 227.6,174.7 221.4,174.0" fill="#D9A300" stroke="#D9A300" stroke-width="0.4" stroke-linejoin="round"/>
<polygon points="239.6,178.9 245.9,179.6 249.2,177.0 242.9,176.3" fill="#D9A300" stroke="#D9A300" stroke-width="0.4" stroke-linejoin="round"/>
<polygon points="268.2,182.1 271.2,179.4 271.2,170.9 268.2,173.5" fill="#BF9000" stroke="#BF9000" stroke-width="0.4" stroke-linejoin="round"/>
<polygon points="261.7,181.3 268.2,182.1 268.2,173.5 261.7,172.8" fill="#FFC000" stroke="#FFC000" stroke-width="0.4" stroke-linejoin="round"/>
<polygon points="261.7,172.8 268.2,173.5 271.2,170.9 264.8,170.2" fill="#F0B400" stroke="#F0B400" stroke-width="0.4" stroke-linejoin="round"/>
<polygon points="290.8,184.5 293.6,181.8 293.9,159.2 291.1,161.7" fill="#BF9000" stroke="#BF9000" stroke-width="0.4" stroke-linejoin="round"/>
<polygon points="284.2,183.8 290.8,184.5 291.1,161.7 284.5,161.0" fill="#FFC000" stroke="#FFC000" stroke-width="0.4" stroke-linejoin="round"/>
<polygon points="284.5,161.0 291.1,161.7 293.9,159.2 287.3,158.6" fill="#F0B400" stroke="#F0B400" stroke-width="0.4" stroke-linejoin="round"/>
<polygon points="313.9,187.1 316.5,184.3 318.3,107.9 315.6,109.9" fill="#BF9000" stroke="#BF9000" stroke-width="0.4" stroke-linejoin="round"/>
<polygon points="307.2,186.3 313.9,187.1 315.6,109.9 308.7,109.4" fill="#FFC000" stroke="#FFC000" stroke-width="0.4" stroke-linejoin="round"/>
<polygon points="308.7,109.4 315.6,109.9 318.3,107.9 311.4,107.4" fill="#F0B400" stroke="#F0B400" stroke-width="0.4" stroke-linejoin="round"/>
<polygon points="337.5,189.7 339.9,186.8 340.1,178.1 337.8,180.8" fill="#BF9000" stroke="#BF9000" stroke-width="0.4" stroke-linejoin="round"/>
<polygon points="330.6,188.9 337.5,189.7 337.8,180.8 330.9,180.1" fill="#FFC000" stroke="#FFC000" stroke-width="0.4" stroke-linejoin="round"/>
<polygon points="330.9,180.1 337.8,180.8 340.1,178.1 333.3,177.4" fill="#F0B400" stroke="#F0B400" stroke-width="0.4" stroke-linejoin="round"/>
<polygon points="354.6,191.5 361.6,192.3 363.7,189.4 356.7,188.6" fill="#D9A300" stroke="#D9A300" stroke-width="0.4" stroke-linejoin="round"/>
<polygon points="386.2,195.0 388.0,192.0 388.4,183.1 386.6,186.0" fill="#BF9000" stroke="#BF9000" stroke-width="0.4" stroke-linejoin="round"/>
<polygon points="379.0,194.2 386.2,195.0 386.6,186.0 379.4,185.2" fill="#FFC000" stroke="#FFC000" stroke-width="0.4" stroke-linejoin="round"/>
<polygon points="379.4,185.2 386.6,186.0 388.4,183.1 381.3,182.4" fill="#F0B400" stroke="#F0B400" stroke-width="0.4" stroke-linejoin="round"/>
<polygon points="403.9,196.9 411.3,197.7 412.9,194.7 405.6,193.9" fill="#D9A300" stroke="#D9A300" stroke-width="0.4" stroke-linejoin="round"/>
<polygon points="429.4,199.7 436.9,200.6 438.2,197.5 430.8,196.7" fill="#D9A300" stroke="#D9A300" stroke-width="0.4" stroke-linejoin="round"/>
<polygon points="84.7,169.1 90.3,169.8 95.0,167.4 89.4,166.7" fill="#8A8A8A" stroke="#8A8A8A" stroke-width="0.4" stroke-linejoin="round"/>
<polygon points="104.4,171.4 110.2,172.0 114.7,169.6 109.0,168.9" fill="#8A8A8A" stroke="#8A8A8A" stroke-width="0.4" stroke-linejoin="round"/>
<polygon points="124.5,173.6 130.4,174.3 134.7,171.8 128.9,171.1" fill="#8A8A8A" stroke="#8A8A8A" stroke-width="0.4" stroke-linejoin="round"/>
<polygon points="145.0,176.0 151.0,176.6 155.2,174.1 149.2,173.4" fill="#8A8A8A" stroke="#8A8A8A" stroke-width="0.4" stroke-linejoin="round"/>
<polygon points="165.9,178.3 172.0,179.0 176.0,176.4 169.9,175.7" fill="#8A8A8A" stroke="#8A8A8A" stroke-width="0.4" stroke-linejoin="round"/>
<polygon points="187.2,180.7 193.4,181.4 197.2,178.8 191.0,178.1" fill="#8A8A8A" stroke="#8A8A8A" stroke-width="0.4" stroke-linejoin="round"/>
<polygon points="208.9,183.2 215.3,183.9 218.9,181.2 212.6,180.5" fill="#8A8A8A" stroke="#8A8A8A" stroke-width="0.4" stroke-linejoin="round"/>
<polygon points="231.1,185.7 237.6,186.4 241.0,183.7 234.5,182.9" fill="#8A8A8A" stroke="#8A8A8A" stroke-width="0.4" stroke-linejoin="round"/>
<polygon points="260.3,189.0 263.5,186.2 263.6,169.8 260.4,172.5" fill="#7C7C7C" stroke="#7C7C7C" stroke-width="0.4" stroke-linejoin="round"/>
<polygon points="253.7,188.3 260.3,189.0 260.4,172.5 253.7,171.8" fill="#A5A5A5" stroke="#A5A5A5" stroke-width="0.4" stroke-linejoin="round"/>
<polygon points="253.7,171.8 260.4,172.5 263.6,169.8 257.0,169.1" fill="#A5A5A5" stroke="#A5A5A5" stroke-width="0.4" stroke-linejoin="round"/>
<polygon points="283.5,191.6 286.5,188.7 286.6,180.0 283.6,182.8" fill="#7C7C7C" stroke="#7C7C7C" stroke-width="0.4" stroke-linejoin="round"/>
<polygon points="276.8,190.9 283.5,191.6 283.6,182.8 276.8,182.0" fill="#A5A5A5" stroke="#A5A5A5" stroke-width="0.4" stroke-linejoin="round"/>
<polygon points="276.8,182.0 283.6,182.8 286.6,180.0 279.9,179.2" fill="#A5A5A5" stroke="#A5A5A5" stroke-width="0.4" stroke-linejoin="round"/>
<polygon points="307.2,194.3 310.0,191.4 310.6,162.3 307.8,165.0" fill="#7C7C7C" stroke="#7C7C7C" stroke-width="0.4" stroke-linejoin="round"/>
<polygon points="300.3,193.5 307.2,194.3 307.8,165.0 300.8,164.3" fill="#A5A5A5" stroke="#A5A5A5" stroke-width="0.4" stroke-linejoin="round"/>
<polygon points="300.8,164.3 307.8,165.0 310.6,162.3 303.6,161.6" fill="#A5A5A5" stroke="#A5A5A5" stroke-width="0.4" stroke-linejoin="round"/>
<polygon points="324.4,196.3 331.4,197.1 333.9,194.0 326.9,193.3" fill="#8A8A8A" stroke="#8A8A8A" stroke-width="0.4" stroke-linejoin="round"/>
<polygon points="348.9,199.0 356.1,199.8 358.4,196.8 351.2,196.0" fill="#8A8A8A" stroke="#8A8A8A" stroke-width="0.4" stroke-linejoin="round"/>
<polygon points="374.0,201.9 381.4,202.7 383.3,199.6 376.0,198.8" fill="#8A8A8A" stroke="#8A8A8A" stroke-width="0.4" stroke-linejoin="round"/>
<polygon points="399.7,204.8 407.2,205.6 408.9,202.4 401.4,201.6" fill="#8A8A8A" stroke="#8A8A8A" stroke-width="0.4" stroke-linejoin="round"/>
<polygon points="425.8,207.7 433.6,208.6 434.9,205.3 427.3,204.5" fill="#8A8A8A" stroke="#8A8A8A" stroke-width="0.4" stroke-linejoin="round"/>
<polygon points="72.4,175.4 78.2,176.1 83.1,173.5 77.4,172.8" fill="#C55A11" stroke="#C55A11" stroke-width="0.4" stroke-linejoin="round"/>
<polygon points="92.5,177.7 98.4,178.4 103.2,175.8 97.3,175.1" fill="#C55A11" stroke="#C55A11" stroke-width="0.4" stroke-linejoin="round"/>
<polygon points="113.1,180.1 119.1,180.8 123.7,178.2 117.7,177.5" fill="#C55A11" stroke="#C55A11" stroke-width="0.4" stroke-linejoin="round"/>
<polygon points="140.1,183.3 144.5,180.6 144.2,172.1 139.8,174.7" fill="#B35E24" stroke="#B35E24" stroke-width="0.4" stroke-linejoin="round"/>
<polygon points="134.0,182.6 140.1,183.3 139.8,174.7 133.6,174.0" fill="#ED7D31" stroke="#ED7D31" stroke-width="0.4" stroke-linejoin="round"/>
<polygon points="133.6,174.0 139.8,174.7 144.2,172.1 138.1,171.4" fill="#DC742D" stroke="#DC742D" stroke-width="0.4" stroke-linejoin="round"/>
<polygon points="155.3,185.1 161.6,185.8 165.8,183.0 159.6,182.3" fill="#C55A11" stroke="#C55A11" stroke-width="0.4" stroke-linejoin="round"/>
<polygon points="183.5,188.4 187.5,185.5 186.8,151.6 182.7,154.1" fill="#B35E24" stroke="#B35E24" stroke-width="0.4" stroke-linejoin="round"/>
<polygon points="177.1,187.6 183.5,188.4 182.7,154.1 176.3,153.4" fill="#ED7D31" stroke="#ED7D31" stroke-width="0.4" stroke-linejoin="round"/>
<polygon points="176.3,153.4 182.7,154.1 186.8,151.6 180.4,151.0" fill="#DC742D" stroke="#DC742D" stroke-width="0.4" stroke-linejoin="round"/>
<polygon points="205.9,191.0 209.7,188.1 209.1,142.6 205.2,145.0" fill="#B35E24" stroke="#B35E24" stroke-width="0.4" stroke-linejoin="round"/>
<polygon points="199.4,190.2 205.9,191.0 205.2,145.0 198.5,144.4" fill="#ED7D31" stroke="#ED7D31" stroke-width="0.4" stroke-linejoin="round"/>
<polygon points="198.5,144.4 205.2,145.0 209.1,142.6 202.5,142.0" fill="#DC742D" stroke="#DC742D" stroke-width="0.4" stroke-linejoin="round"/>
<polygon points="228.7,193.6 232.3,190.7 231.8,104.4 228.1,106.4" fill="#B35E24" stroke="#B35E24" stroke-width="0.4" stroke-linejoin="round"/>
<polygon points="222.1,192.9 228.7,193.6 228.1,106.4 221.2,105.8" fill="#ED7D31" stroke="#ED7D31" stroke-width="0.4" stroke-linejoin="round"/>
<polygon points="221.2,105.8 228.1,106.4 231.8,104.4 225.0,103.9" fill="#DC742D" stroke="#DC742D" stroke-width="0.4" stroke-linejoin="round"/>
<polygon points="252.0,196.4 255.4,193.4 255.5,136.6 252.1,139.0" fill="#B35E24" stroke="#B35E24" stroke-width="0.4" stroke-linejoin="round"/>
<polygon points="245.2,195.6 252.0,196.4 252.1,139.0 245.1,138.4" fill="#ED7D31" stroke="#ED7D31" stroke-width="0.4" stroke-linejoin="round"/>
<polygon points="245.1,138.4 252.1,139.0 255.5,136.6 248.6,136.0" fill="#DC742D" stroke="#DC742D" stroke-width="0.4" stroke-linejoin="round"/>
<polygon points="275.8,199.1 279.0,196.1 279.5,138.8 276.3,141.2" fill="#B35E24" stroke="#B35E24" stroke-width="0.4" stroke-linejoin="round"/>
<polygon points="268.9,198.3 275.8,199.1 276.3,141.2 269.2,140.6" fill="#ED7D31" stroke="#ED7D31" stroke-width="0.4" stroke-linejoin="round"/>
<polygon points="269.2,140.6 276.3,141.2 279.5,138.8 272.5,138.1" fill="#DC742D" stroke="#DC742D" stroke-width="0.4" stroke-linejoin="round"/>
<polygon points="293.0,201.1 300.1,202.0 303.0,198.9 296.0,198.0" fill="#C55A11" stroke="#C55A11" stroke-width="0.4" stroke-linejoin="round"/>
<polygon points="317.7,204.0 325.0,204.9 327.6,201.7 320.4,200.9" fill="#C55A11" stroke="#C55A11" stroke-width="0.4" stroke-linejoin="round"/>
<polygon points="343.0,207.0 350.4,207.8 352.7,204.6 345.4,203.7" fill="#C55A11" stroke="#C55A11" stroke-width="0.4" stroke-linejoin="round"/>
<polygon points="368.7,210.0 376.3,210.9 378.4,207.5 370.9,206.7" fill="#C55A11" stroke="#C55A11" stroke-width="0.4" stroke-linejoin="round"/>
<polygon points="395.1,213.1 402.8,214.0 404.6,210.6 396.9,209.7" fill="#C55A11" stroke="#C55A11" stroke-width="0.4" stroke-linejoin="round"/>
<polygon points="422.0,216.2 430.0,217.1 431.4,213.7 423.6,212.8" fill="#C55A11" stroke="#C55A11" stroke-width="0.4" stroke-linejoin="round"/>
<polygon points="65.4,182.7 70.6,180.0 63.7,69.9 58.3,71.4" fill="#4475A4" stroke="#4475A4" stroke-width="0.4" stroke-linejoin="round"/>
<polygon points="59.5,182.0 65.4,182.7 58.3,71.4 52.1,71.0" fill="#5B9BD5" stroke="#5B9BD5" stroke-width="0.4" stroke-linejoin="round"/>
<polygon points="52.1,71.0 58.3,71.4 63.7,69.9 57.7,69.5" fill="#5B9BD5" stroke="#5B9BD5" stroke-width="0.4" stroke-linejoin="round"/>
<polygon points="86.1,185.2 91.1,182.4 85.0,71.3 79.7,72.9" fill="#4475A4" stroke="#4475A4" stroke-width="0.4" stroke-linejoin="round"/>
<polygon points="80.0,184.4 86.1,185.2 79.7,72.9 73.4,72.4" fill="#5B9BD5" stroke="#5B9BD5" stroke-width="0.4" stroke-linejoin="round"/>
<polygon points="73.4,72.4 79.7,72.9 85.0,71.3 78.8,70.9" fill="#5B9BD5" stroke="#5B9BD5" stroke-width="0.4" stroke-linejoin="round"/>
<polygon points="107.1,187.7 112.0,184.9 106.6,72.7 101.5,74.3" fill="#4475A4" stroke="#4475A4" stroke-width="0.4" stroke-linejoin="round"/>
<polygon points="101.0,187.0 107.1,187.7 101.5,74.3 95.1,73.9" fill="#5B9BD5" stroke="#5B9BD5" stroke-width="0.4" stroke-linejoin="round"/>
<polygon points="95.1,73.9 101.5,74.3 106.6,72.7 100.3,72.3" fill="#5B9BD5" stroke="#5B9BD5" stroke-width="0.4" stroke-linejoin="round"/>
<polygon points="128.7,190.3 133.3,187.5 129.1,83.6 124.2,85.3" fill="#4475A4" stroke="#4475A4" stroke-width="0.4" stroke-linejoin="round"/>
<polygon points="122.4,189.6 128.7,190.3 124.2,85.3 117.7,84.8" fill="#5B9BD5" stroke="#5B9BD5" stroke-width="0.4" stroke-linejoin="round"/>
<polygon points="117.7,84.8 124.2,85.3 129.1,83.6 122.7,83.1" fill="#5B9BD5" stroke="#5B9BD5" stroke-width="0.4" stroke-linejoin="round"/>
<polygon points="150.6,193.0 155.1,190.0 151.3,75.7 146.6,77.3" fill="#4475A4" stroke="#4475A4" stroke-width="0.4" stroke-linejoin="round"/>
<polygon points="144.2,192.2 150.6,193.0 146.6,77.3 140.0,76.9" fill="#5B9BD5" stroke="#5B9BD5" stroke-width="0.4" stroke-linejoin="round"/>
<polygon points="140.0,76.9 146.6,77.3 151.3,75.7 144.7,75.2" fill="#5B9BD5" stroke="#5B9BD5" stroke-width="0.4" stroke-linejoin="round"/>
<polygon points="173.1,195.7 177.3,192.7 175.3,114.0 170.9,116.1" fill="#4475A4" stroke="#4475A4" stroke-width="0.4" stroke-linejoin="round"/>
<polygon points="166.5,194.9 173.1,195.7 170.9,116.1 164.2,115.5" fill="#5B9BD5" stroke="#5B9BD5" stroke-width="0.4" stroke-linejoin="round"/>
<polygon points="164.2,115.5 170.9,116.1 175.3,114.0 168.7,113.4" fill="#5B9BD5" stroke="#5B9BD5" stroke-width="0.4" stroke-linejoin="round"/>
<polygon points="196.0,198.4 200.0,195.4 198.8,127.7 194.7,130.0" fill="#4475A4" stroke="#4475A4" stroke-width="0.4" stroke-linejoin="round"/>
<polygon points="189.3,197.6 196.0,198.4 194.7,130.0 187.8,129.4" fill="#5B9BD5" stroke="#5B9BD5" stroke-width="0.4" stroke-linejoin="round"/>
<polygon points="187.8,129.4 194.7,130.0 198.8,127.7 192.0,127.1" fill="#5B9BD5" stroke="#5B9BD5" stroke-width="0.4" stroke-linejoin="round"/>
<polygon points="219.4,201.3 223.2,198.2 222.9,171.9 219.1,174.7" fill="#4475A4" stroke="#4475A4" stroke-width="0.4" stroke-linejoin="round"/>
<polygon points="212.5,200.4 219.4,201.3 219.1,174.7 212.2,174.0" fill="#5B9BD5" stroke="#5B9BD5" stroke-width="0.4" stroke-linejoin="round"/>
<polygon points="212.2,174.0 219.1,174.7 222.9,171.9 216.1,171.2" fill="#5B9BD5" stroke="#5B9BD5" stroke-width="0.4" stroke-linejoin="round"/>
<polygon points="243.3,204.1 246.8,201.0 246.8,171.0 243.2,173.8" fill="#4475A4" stroke="#4475A4" stroke-width="0.4" stroke-linejoin="round"/>
<polygon points="236.3,203.3 243.3,204.1 243.2,173.8 236.1,173.0" fill="#5B9BD5" stroke="#5B9BD5" stroke-width="0.4" stroke-linejoin="round"/>
<polygon points="236.1,173.0 243.2,173.8 246.8,171.0 239.8,170.2" fill="#5B9BD5" stroke="#5B9BD5" stroke-width="0.4" stroke-linejoin="round"/>
<polygon points="267.7,207.1 271.0,203.9 271.1,188.8 267.8,191.8" fill="#4475A4" stroke="#4475A4" stroke-width="0.4" stroke-linejoin="round"/>
<polygon points="260.5,206.2 267.7,207.1 267.8,191.8 260.6,191.0" fill="#5B9BD5" stroke="#5B9BD5" stroke-width="0.4" stroke-linejoin="round"/>
<polygon points="260.6,191.0 267.8,191.8 271.1,188.8 264.0,188.0" fill="#5B9BD5" stroke="#5B9BD5" stroke-width="0.4" stroke-linejoin="round"/>
<polygon points="292.6,210.1 295.7,206.8 295.8,201.0 292.7,204.2" fill="#4475A4" stroke="#4475A4" stroke-width="0.4" stroke-linejoin="round"/>
<polygon points="285.3,209.2 292.6,210.1 292.7,204.2 285.4,203.3" fill="#5B9BD5" stroke="#5B9BD5" stroke-width="0.4" stroke-linejoin="round"/>
<polygon points="285.4,203.3 292.7,204.2 295.8,201.0 288.5,200.1" fill="#5B9BD5" stroke="#5B9BD5" stroke-width="0.4" stroke-linejoin="round"/>
<polygon points="310.7,212.3 318.1,213.2 320.9,209.8 313.6,208.9" fill="#2E75B6" stroke="#2E75B6" stroke-width="0.4" stroke-linejoin="round"/>
<polygon points="336.6,215.4 344.2,216.3 346.7,212.9 339.2,212.0" fill="#2E75B6" stroke="#2E75B6" stroke-width="0.4" stroke-linejoin="round"/>
<polygon points="363.1,218.6 370.9,219.6 373.1,216.0 365.4,215.1" fill="#2E75B6" stroke="#2E75B6" stroke-width="0.4" stroke-linejoin="round"/>
<polygon points="390.2,221.9 398.2,222.9 400.1,219.2 392.2,218.3" fill="#2E75B6" stroke="#2E75B6" stroke-width="0.4" stroke-linejoin="round"/>
<polygon points="418.0,225.2 426.2,226.2 427.7,222.5 419.6,221.6" fill="#2E75B6" stroke="#2E75B6" stroke-width="0.4" stroke-linejoin="round"/><text x="38.5" y="187.2" font-size="10.5" text-anchor="end" textLength="12.9" lengthAdjust="spacingAndGlyphs">0%</text>
<text x="37.0" y="165.6" font-size="10.5" text-anchor="end" textLength="18.3" lengthAdjust="spacingAndGlyphs">20%</text>
<text x="35.2" y="144.4" font-size="10.5" text-anchor="end" textLength="18.3" lengthAdjust="spacingAndGlyphs">40%</text>
<text x="34.0" y="121.3" font-size="10.5" text-anchor="end" textLength="18.3" lengthAdjust="spacingAndGlyphs">60%</text>
<text x="32.5" y="99.0" font-size="10.5" text-anchor="end" textLength="18.3" lengthAdjust="spacingAndGlyphs">80%</text>
<text x="30.8" y="75.9" font-size="10.5" text-anchor="end" textLength="23.3" lengthAdjust="spacingAndGlyphs">100%</text>
<text x="58.5" y="202.1" font-size="10.5" text-anchor="middle" textLength="5.4" lengthAdjust="spacingAndGlyphs">6</text>
<text x="79.3" y="204.7" font-size="10.5" text-anchor="middle" textLength="5.4" lengthAdjust="spacingAndGlyphs">7</text>
<text x="100.4" y="207.2" font-size="10.5" text-anchor="middle" textLength="5.4" lengthAdjust="spacingAndGlyphs">8</text>
<text x="122.0" y="209.9" font-size="10.5" text-anchor="middle" textLength="5.4" lengthAdjust="spacingAndGlyphs">9</text>
<text x="144.1" y="212.6" font-size="10.5" text-anchor="middle" textLength="10.8" lengthAdjust="spacingAndGlyphs">10</text>
<text x="166.6" y="215.3" font-size="10.5" text-anchor="middle" textLength="10.8" lengthAdjust="spacingAndGlyphs">11</text>
<text x="189.6" y="218.1" font-size="10.5" text-anchor="middle" textLength="10.8" lengthAdjust="spacingAndGlyphs">12</text>
<text x="213.1" y="221.0" font-size="10.5" text-anchor="middle" textLength="10.8" lengthAdjust="spacingAndGlyphs">13</text>
<text x="237.1" y="223.9" font-size="10.5" text-anchor="middle" textLength="10.8" lengthAdjust="spacingAndGlyphs">14</text>
<text x="261.6" y="226.9" font-size="10.5" text-anchor="middle" textLength="10.8" lengthAdjust="spacingAndGlyphs">15</text>
<text x="286.6" y="230.0" font-size="10.5" text-anchor="middle" textLength="10.8" lengthAdjust="spacingAndGlyphs">16</text>
<text x="312.3" y="233.1" font-size="10.5" text-anchor="middle" textLength="10.8" lengthAdjust="spacingAndGlyphs">17</text>
<text x="338.5" y="236.3" font-size="10.5" text-anchor="middle" textLength="10.8" lengthAdjust="spacingAndGlyphs">18</text>
<text x="365.3" y="239.6" font-size="10.5" text-anchor="middle" textLength="10.8" lengthAdjust="spacingAndGlyphs">19</text>
<text x="392.8" y="242.9" font-size="10.5" text-anchor="middle" textLength="10.8" lengthAdjust="spacingAndGlyphs">20</text>
<text x="420.9" y="246.3" font-size="10.5" text-anchor="middle" textLength="10.8" lengthAdjust="spacingAndGlyphs">21</text>
<text x="225.9" y="244.6" font-size="10.5" text-anchor="middle" textLength="52.6" lengthAdjust="spacingAndGlyphs">Age (years)</text>
<rect x="443.2" y="210.7" width="5.3" height="5.3" fill="#5B9BD5"/>
<text x="451.7" y="216.7" font-size="10.5" textLength="5.4" lengthAdjust="spacingAndGlyphs">0</text>
<rect x="463.3" y="210.7" width="5.3" height="5.3" fill="#ED7D31"/>
<text x="471.8" y="216.7" font-size="10.5" textLength="5.4" lengthAdjust="spacingAndGlyphs">1</text>
<rect x="483.5" y="210.7" width="5.3" height="5.3" fill="#A5A5A5"/>
<text x="492.0" y="216.7" font-size="10.5" textLength="5.4" lengthAdjust="spacingAndGlyphs">2</text>
<rect x="503.6" y="210.7" width="5.3" height="5.3" fill="#FFC000"/>
<text x="512.1" y="216.7" font-size="10.5" textLength="5.4" lengthAdjust="spacingAndGlyphs">3</text>
<rect x="523.8" y="210.7" width="5.3" height="5.3" fill="#4472C4"/>
<text x="532.3" y="216.7" font-size="10.5" textLength="5.4" lengthAdjust="spacingAndGlyphs">4</text></g>
</svg>
</body></html>
